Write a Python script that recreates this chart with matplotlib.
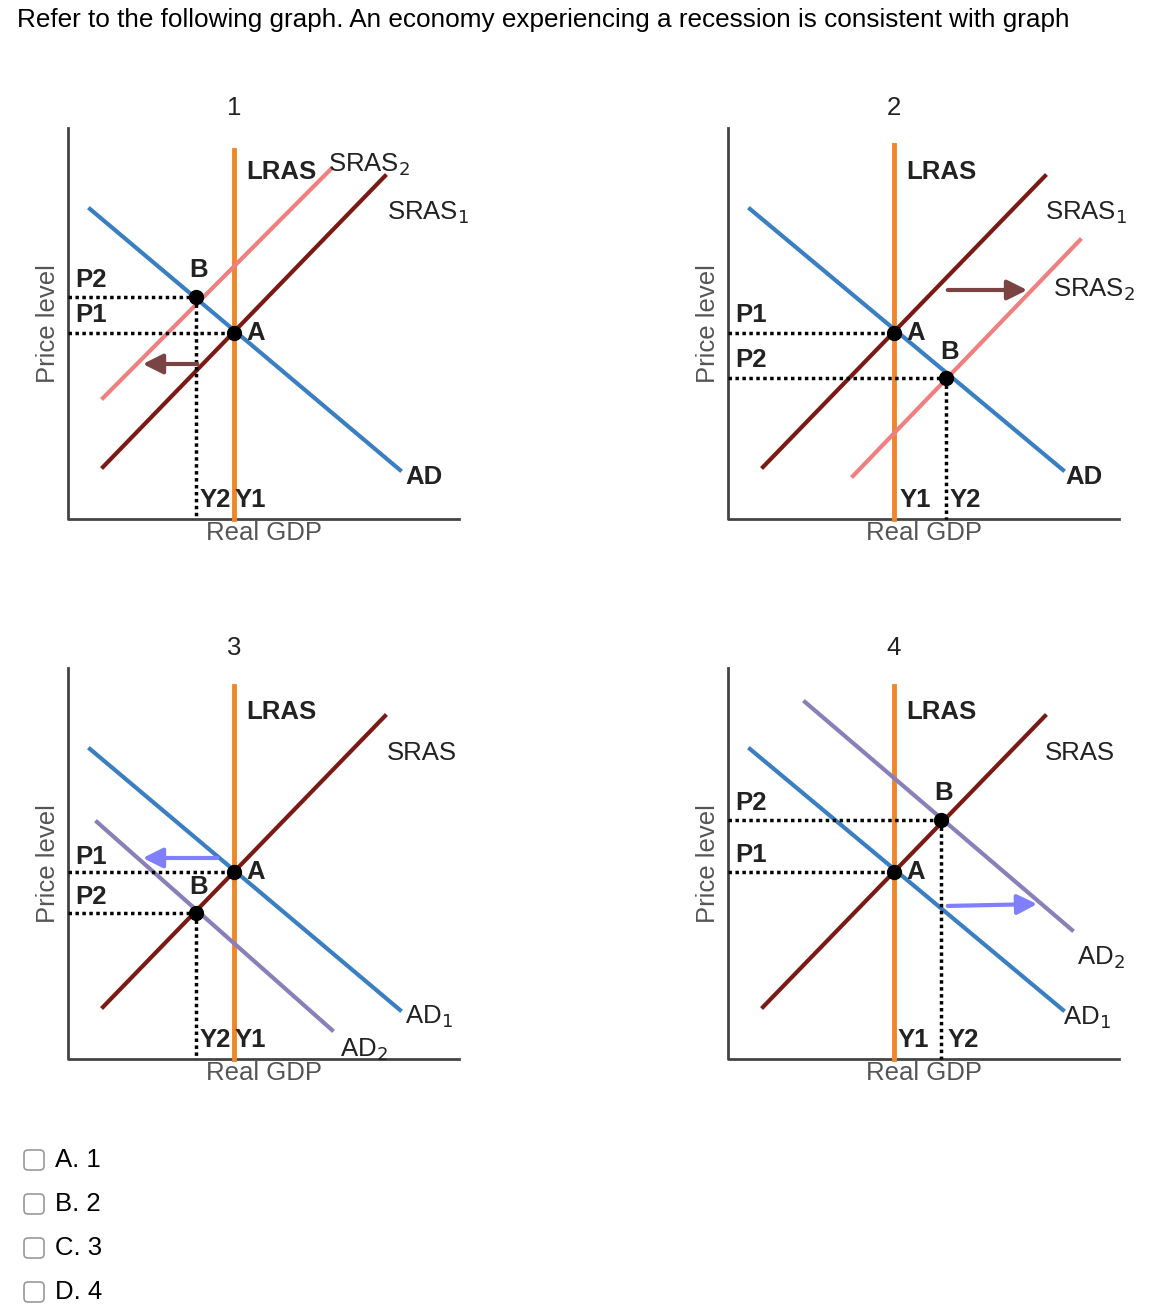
import matplotlib
matplotlib.use("Agg")
import matplotlib.pyplot as plt
from matplotlib.patches import FancyBboxPatch

plt.rcParams['font.family'] = ['Liberation Sans', 'DejaVu Sans']

W, H = 1158, 1310
fig = plt.figure(figsize=(W/100, H/100), dpi=100)
ax = fig.add_axes([0, 0, 1, 1])
ax.set_xlim(0, W); ax.set_ylim(H, 0); ax.axis('off')

ORANGE = '#f0862b'; BLUE = '#3a7fc1'; DRED = '#7b1a14'; PINK = '#f08080'
PURP = '#8a7fb8'; BROWN = '#7a4444'; LBLUE = '#7f7fff'

panels = [
    dict(axis=(68, 128, 519, 459), lras=(234, 150),
         lines=[((90, 209), (400, 470), BLUE), ((103, 467), (385, 176), DRED), ((103, 398), (330, 170), PINK)],
         pts=[(196, 297), (234, 333)],
         hdots=[(297, 196), (333, 234)], vdots=[(196, 297)],
         arrow=((200, 364), (140, 364), BROWN),
         texts=[("1", 234, 108, False, 'center'), ("LRAS", 246, 172, True, 'left'),
                ("SRAS$_2$", 328, 165, False, 'left'), ("SRAS$_1$", 387, 213, False, 'left'),
                ("P2", 75, 280, True, 'left'), ("P1", 75, 315, True, 'left'),
                ("B", 189, 270, True, 'left'), ("A", 246, 333, True, 'left'),
                ("AD", 405, 477, True, 'left'), ("Y2", 200, 500, True, 'left'), ("Y1", 235, 500, True, 'left')]),
    dict(axis=(728, 128, 519, 1119), lras=(894, 145),
         lines=[((750, 209), (1063, 470), BLUE), ((763, 467), (1045, 176), DRED), ((853, 476), (1080, 240), PINK)],
         pts=[(894, 333), (946, 378)],
         hdots=[(333, 894), (378, 946)], vdots=[(946, 378)],
         arrow=((945, 290), (1030, 290), BROWN),
         texts=[("2", 894, 108, False, 'center'), ("LRAS", 906, 172, True, 'left'),
                ("SRAS$_1$", 1045, 213, False, 'left'), ("SRAS$_2$", 1053, 290, False, 'left'),
                ("P1", 735, 315, True, 'left'), ("P2", 735, 360, True, 'left'),
                ("A", 906, 333, True, 'left'), ("B", 940, 352, True, 'left'),
                ("AD", 1065, 477, True, 'left'), ("Y1", 900, 500, True, 'left'), ("Y2", 950, 500, True, 'left')]),
    dict(axis=(68, 668, 1059, 459), lras=(234, 686),
         lines=[((90, 749), (400, 1010), BLUE), ((103, 1007), (385, 716), DRED), ((97, 822), (332, 1030), PURP)],
         pts=[(234, 872), (196, 913)],
         hdots=[(872, 234), (913, 196)], vdots=[(196, 913)],
         arrow=((220, 858), (140, 858), LBLUE),
         texts=[("3", 234, 648, False, 'center'), ("LRAS", 246, 712, True, 'left'),
                ("SRAS", 387, 753, False, 'left'), ("P1", 75, 857, True, 'left'), ("P2", 75, 897, True, 'left'),
                ("B", 189, 887, True, 'left'), ("A", 246, 872, True, 'left'),
                ("AD$_1$", 405, 1017, False, 'left'), ("AD$_2$", 340, 1050, False, 'left'),
                ("Y2", 200, 1040, True, 'left'), ("Y1", 235, 1040, True, 'left')]),
    dict(axis=(728, 668, 1059, 1119), lras=(894, 686),
         lines=[((750, 749), (1063, 1010), BLUE), ((763, 1007), (1045, 716), DRED), ((805, 702), (1072, 930), PURP)],
         pts=[(894, 872), (941, 820)],
         hdots=[(820, 941), (872, 894)], vdots=[(941, 820)],
         arrow=((945, 906), (1040, 904), LBLUE),
         texts=[("4", 894, 648, False, 'center'), ("LRAS", 906, 712, True, 'left'),
                ("SRAS", 1045, 753, False, 'left'), ("P2", 735, 803, True, 'left'), ("P1", 735, 855, True, 'left'),
                ("B", 934, 793, True, 'left'), ("A", 906, 872, True, 'left'),
                ("AD$_2$", 1077, 958, False, 'left'), ("AD$_1$", 1063, 1018, False, 'left'),
                ("Y1", 898, 1040, True, 'left'), ("Y2", 948, 1040, True, 'left')]),
]

FS = 18.5
for p in panels:
    x0, ytop, ybot, xr = p['axis']
    ax.plot([x0, x0, xr], [ytop, ybot, ybot], color='#444444', lw=2, zorder=2)
    lx, ly = p['lras']
    ax.plot([lx, lx], [ly, ybot], color=ORANGE, lw=3.5, zorder=3)
    for (a, b, c) in p['lines']:
        ax.plot([a[0], b[0]], [a[1], b[1]], color=c, lw=3, zorder=4)
    for (y, xe) in p['hdots']:
        ax.plot([x0, xe], [y, y], color='black', lw=2.5, ls=(0, (1, 1)), zorder=5)
    for (xv, ys) in p['vdots']:
        ax.plot([xv, xv], [ys, ybot], color='black', lw=2.5, ls=(0, (1, 1)), zorder=5)
    for (px, py) in p['pts']:
        ax.plot(px, py, 'o', color='black', ms=10, zorder=7)
    (s, e, c) = p['arrow']
    ax.annotate('', xy=e, xytext=s, zorder=6,
                arrowprops=dict(arrowstyle='-|>', color=c, lw=3, mutation_scale=30))
    for (t, x, y, bold, ha) in p['texts']:
        ax.text(x, y, t, fontsize=FS, fontweight='bold' if bold else 'normal',
                ha=ha, va='center', color='#222222', zorder=8)
    ax.text((x0 + xr) / 2, ybot + 14, "Real GDP", fontsize=FS, ha='center', va='center', color='#555555')
    ax.text(x0 - 20, (ytop + ybot) / 2 + 0, "Price level", fontsize=FS, rotation=90,
            ha='center', va='center', color='#555555')

ax.text(17, 20, "Refer to the following graph. An economy experiencing a recession is consistent with graph",
        fontsize=18.8, ha='left', va='center', color='black')

choices = ["A. 1", "B. 2", "C. 3", "D. 4"]
for i, c in enumerate(choices):
    y = 1160 + 44 * i
    ax.add_patch(FancyBboxPatch((24, y - 10), 20, 20, boxstyle='round,pad=0,rounding_size=4',
                                fc='white', ec='#999999', lw=1.2))
    ax.text(55, y, c, fontsize=FS, ha='left', va='center', color='black')

fig.savefig('out.png', dpi=100)
